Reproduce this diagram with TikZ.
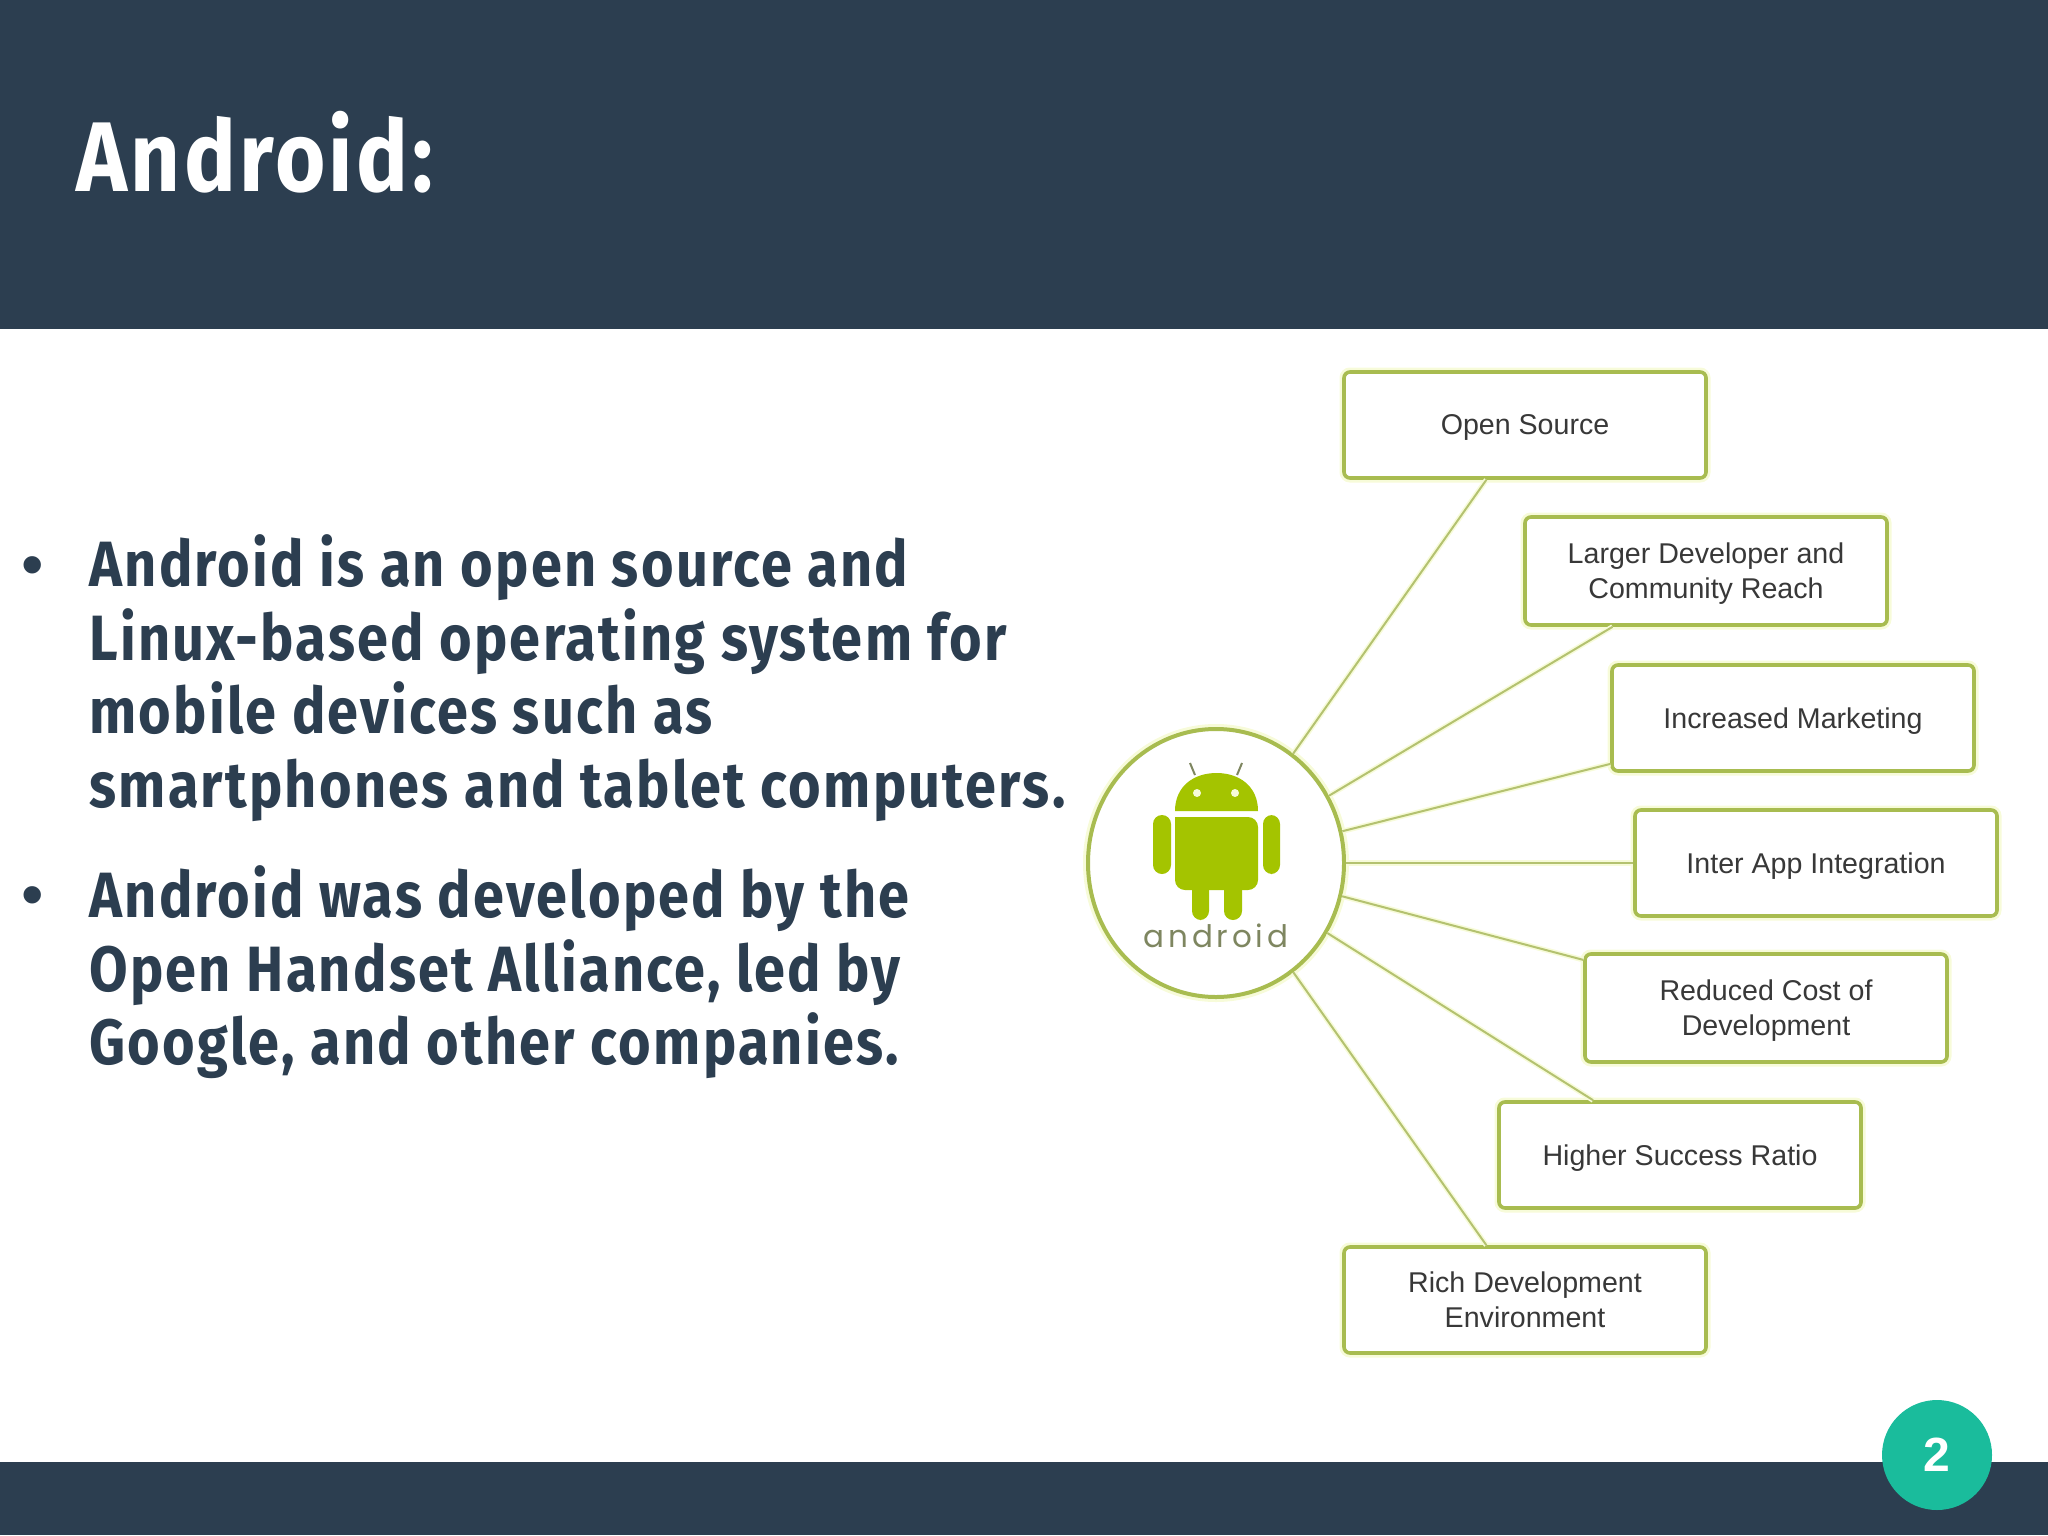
\documentclass[tikz,border=0pt]{standalone}
\usepackage{fontspec}
\usetikzlibrary{shapes.geometric}
\setmainfont{Liberation Sans}
\newfontfamily\slidefont[FakeStretch=0.873,LetterSpace=3.5]{Fira Sans}
\newfontfamily\logofont[LetterSpace=12]{Poppins}
\definecolor{slidedark}{HTML}{2C3E50}
\definecolor{badgeteal}{HTML}{1ABC9C}
\definecolor{boxolive}{HTML}{A8BC50}
\definecolor{wireolive}{HTML}{B4C270}
\definecolor{haloyellow}{HTML}{F7FBD9}
\definecolor{robotgreen}{HTML}{A4C400}
\definecolor{logogray}{HTML}{7E8660}
\tikzset{
  featbox/.style={draw=boxolive, line width=1.8pt, rounded corners=3pt, fill=white,
    preaction={draw=haloyellow, line width=4.5pt},
    minimum width=181pt, minimum height=53pt, inner sep=0pt, align=center, text depth=-0.6pt,
    text=black!78, font=\fontsize{14.3}{17.6}\selectfont},
  hubcircle/.style={ellipse, draw=boxolive, line width=2pt, fill=white,
    preaction={draw=haloyellow, line width=5pt}, minimum width=128pt, minimum height=134pt, inner sep=0pt},
  wire/.style={draw=wireolive, line width=1pt, preaction={draw=haloyellow, line width=2.6pt}},
  bodytext/.style={anchor=north west, inner sep=0pt, align=left, text=slidedark,
    font=\fontsize{32}{36.85}\slidefont\bfseries},
}
\begin{document}
\begin{tikzpicture}[x=0.5pt, y=-0.5pt]
\useasboundingbox (0,0) rectangle (2048,1535);

% bands
\fill [slidedark] (0,0) rectangle (2048,329);
\fill [slidedark] (0,1462) rectangle (2048,1535);

% title and bullets
\node (title) [anchor=base west, inner sep=0pt, text=white, font=\fontsize{49.5}{56}\slidefont\bfseries] at (76,192) {Android:};
\node (dotA) [text=slidedark, font=\fontsize{32}{36}\selectfont] at (33,572) {•};
\node (paraA) [bodytext] at (89,534) {Android is an open source and\\Linux-based operating system for\\mobile devices such as\\smartphones and tablet computers.};
\node (dotB) [text=slidedark, font=\fontsize{32}{36}\selectfont] at (33,902) {•};
\node (paraB) [bodytext] at (89,865) {Android was developed by the\\Open Handset Alliance, led by\\Google, and other companies.};

% hub and feature boxes
\node (hub) [hubcircle] at (1216,863) {};
\node (open) [featbox] at (1525,425) {Open Source};
\node (reach) [featbox, minimum height=54pt] at (1706,571) {Larger Developer and\\Community Reach};
\node (market) [featbox] at (1793,718) {Increased Marketing};
\node (inter) [featbox] at (1816,863) {Inter App Integration};
\node (cost) [featbox, minimum height=54pt] at (1766,1008) {Reduced Cost of\\Development};
\node (ratio) [featbox] at (1680,1155) {Higher Success Ratio};
\node (rich) [featbox] at (1525,1300) {Rich Development\\Environment};
\foreach \boxname in {open,reach,market,inter,cost,ratio,rich}
  \draw [wire] (hub) -- (\boxname);

% robot
\draw [logogray, line width=1pt] (1195,775) -- (1190,763);
\draw [logogray, line width=1pt] (1237,775) -- (1242,763);
\fill [robotgreen] (1175,811) .. controls (1175,786) and (1194,773) .. (1216.5,773) .. controls (1239,773) and (1258,786) .. (1258,811) -- cycle;
\fill [robotgreen] [rounded corners=5pt] (1175,817) -- (1175,890) -- (1258,890) -- (1258,817) [sharp corners] -- cycle;
\fill [robotgreen, rounded corners=4.5pt] (1153,815) rectangle (1171,874);
\fill [robotgreen, rounded corners=4.5pt] (1263,815) rectangle (1280,874);
\fill [robotgreen, rounded corners=4.5pt] (1192,870) rectangle (1209,920);
\fill [robotgreen, rounded corners=4.5pt] (1224,870) rectangle (1242,920);
\fill [haloyellow] (1197,793) circle [radius=4];
\fill [haloyellow] (1235,793) circle [radius=4];
\node (logo) [text=logogray, inner sep=0pt, font=\fontsize{15.5}{16}\logofont] at (1216,936) {android};

% page number
\node (badge) [circle, fill=badgeteal, minimum size=55pt, inner sep=0pt, text=white, font=\fontsize{24}{26}\selectfont\bfseries] at (1937,1455) {2};
\end{tikzpicture}
\end{document}
